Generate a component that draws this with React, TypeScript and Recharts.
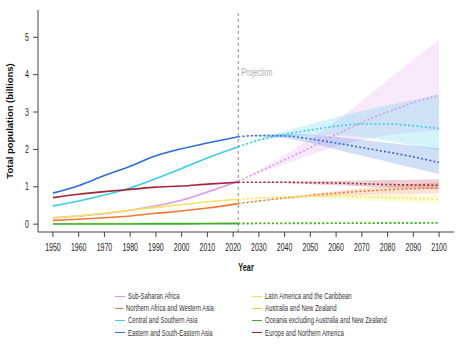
import React from "react";
import {
  ComposedChart,
  Line,
  Area,
  XAxis,
  YAxis,
  ReferenceLine,
} from "recharts";

const histYears = [1950, 1960, 1970, 1980, 1990, 2000, 2010, 2022];
const projYears = [2022, 2030, 2040, 2050, 2060, 2070, 2080, 2090, 2100];
const xTicks = [1950, 1960, 1970, 1980, 1990, 2000, 2010, 2020, 2030, 2040, 2050, 2060, 2070, 2080, 2090, 2100];
const yTicks = [0, 1, 2, 3, 4, 5];

const regions = [
  "Sub-Saharan Africa",
  "Northern Africa and Western Asia",
  "Central and Southern Asia",
  "Eastern and South-Eastern Asia",
  "Latin America and the Caribbean",
  "Australia and New Zealand",
  "Oceania excluding Australia and New Zealand",
  "Europe and Northern America",
];
const colors = ["#dc98ea", "#f07a32", "#3ccde8", "#2f6ed6", "#f5e35a", "#c9d84a", "#35b040", "#a22638"];

// historical, 1950..2022
const ssaHist = [0.17, 0.22, 0.28, 0.37, 0.49, 0.64, 0.86, 1.15];
const nawaHist = [0.1, 0.13, 0.17, 0.22, 0.29, 0.35, 0.43, 0.55];
const csaHist = [0.49, 0.62, 0.78, 0.97, 1.22, 1.49, 1.77, 2.07];
const eseaHist = [0.83, 1.03, 1.3, 1.55, 1.83, 2.02, 2.17, 2.34];
const lacHist = [0.17, 0.22, 0.29, 0.37, 0.45, 0.52, 0.6, 0.66];
const anzHist = [0.01, 0.013, 0.015, 0.017, 0.02, 0.022, 0.026, 0.031];
const oceHist = [0.003, 0.004, 0.005, 0.006, 0.007, 0.008, 0.01, 0.014];
const enaHist = [0.71, 0.8, 0.87, 0.93, 0.99, 1.02, 1.07, 1.12];

// projections, 2022..2100: median, low, high
const ssaProj = [1.15, 1.4, 1.72, 2.05, 2.4, 2.72, 3.0, 3.25, 3.45];
const ssaLow = [1.15, 1.36, 1.6, 1.85, 2.08, 2.25, 2.38, 2.45, 2.5];
const ssaHigh = [1.15, 1.44, 1.85, 2.28, 2.75, 3.3, 3.85, 4.4, 4.92];
const nawaProj = [0.55, 0.62, 0.7, 0.77, 0.83, 0.88, 0.92, 0.95, 0.97];
const nawaLow = [0.55, 0.61, 0.67, 0.72, 0.76, 0.78, 0.8, 0.81, 0.82];
const nawaHigh = [0.55, 0.63, 0.72, 0.81, 0.89, 0.96, 1.02, 1.07, 1.12];
const csaProj = [2.07, 2.25, 2.4, 2.52, 2.62, 2.68, 2.68, 2.63, 2.56];
const csaLow = [2.07, 2.22, 2.33, 2.38, 2.38, 2.33, 2.23, 2.1, 1.97];
const csaHigh = [2.07, 2.28, 2.48, 2.68, 2.86, 3.03, 3.18, 3.33, 3.45];
const eseaProj = [2.34, 2.37, 2.36, 2.28, 2.17, 2.05, 1.93, 1.8, 1.65];
const eseaLow = [2.34, 2.35, 2.3, 2.17, 2.0, 1.83, 1.67, 1.5, 1.34];
const eseaHigh = [2.34, 2.39, 2.42, 2.4, 2.34, 2.26, 2.18, 2.1, 2.03];
const lacProj = [0.66, 0.7, 0.73, 0.75, 0.75, 0.73, 0.71, 0.69, 0.67];
const lacLow = [0.66, 0.69, 0.7, 0.69, 0.67, 0.63, 0.6, 0.57, 0.55];
const lacHigh = [0.66, 0.71, 0.75, 0.78, 0.8, 0.8, 0.8, 0.79, 0.78];
const anzProj = [0.031, 0.034, 0.036, 0.038, 0.04, 0.041, 0.042, 0.043, 0.043];
const oceProj = [0.014, 0.016, 0.019, 0.021, 0.023, 0.025, 0.027, 0.028, 0.03];
const enaProj = [1.12, 1.12, 1.12, 1.11, 1.1, 1.08, 1.06, 1.05, 1.04];
const enaLow = [1.12, 1.11, 1.1, 1.07, 1.04, 1.01, 0.98, 0.96, 0.94];
const enaHigh = [1.12, 1.13, 1.14, 1.15, 1.16, 1.17, 1.18, 1.19, 1.2];

const keys = ["ssa", "nawa", "csa", "esea", "lac", "anz", "oce", "ena"];
const hist = [ssaHist, nawaHist, csaHist, eseaHist, lacHist, anzHist, oceHist, enaHist];
const proj = [ssaProj, nawaProj, csaProj, eseaProj, lacProj, anzProj, oceProj, enaProj];
const lows = [ssaLow, nawaLow, csaLow, eseaLow, lacLow, null, null, enaLow];
const highs = [ssaHigh, nawaHigh, csaHigh, eseaHigh, lacHigh, null, null, enaHigh];

const allYears = Array.from(new Set([...histYears, ...projYears]));
const data = allYears.map((year) => {
  const row: Record<string, any> = { year };
  const hi = histYears.indexOf(year);
  const pj = projYears.indexOf(year);
  keys.forEach((k, i) => {
    if (hi >= 0) row[k + "_h"] = hist[i][hi];
    if (pj >= 0) {
      row[k + "_p"] = proj[i][pj];
      const lo = lows[i];
      const up = highs[i];
      if (lo && up) row[k + "_b"] = [lo[pj], up[pj]];
    }
  });
  return row;
});

const font = "'Liberation Sans', Arial, sans-serif";
const SQ = 0.7; // the original's text is horizontally squeezed

// draw order: bands first, then lines
const bandOrder = ["ssa", "csa", "esea", "lac", "nawa", "ena"];

function Narrow({ x, y, text, anchor = "middle", size = 10, fill = "#222", bold = false }: any) {
  return (
    <text
      transform={`translate(${x},${y}) scale(${SQ},1)`}
      textAnchor={anchor}
      fontSize={size}
      fontFamily={font}
      fontWeight={bold ? "bold" : "normal"}
      fill={fill}
    >
      {text}
    </text>
  );
}

const XTick = (p: any) => <Narrow x={p.x} y={p.y + 9} text={p.payload.value} />;
const YTick = (p: any) => <Narrow x={p.x} y={p.y + 3.5} text={p.payload.value} anchor="end" />;

export default function App() {
  return (
    <div style={{ position: "absolute", left: 0, top: 0, width: 474, height: 346, background: "#fff", fontFamily: font }}>
      <ComposedChart
        width={474}
        height={346}
        data={data}
        margin={{ top: 10, right: 20, left: 0, bottom: 74 }}
      >
        <XAxis
          dataKey="year"
          type="number"
          domain={[1944.2, 2105.8]}
          ticks={xTicks}
          interval={0}
          allowDataOverflow
          tickSize={5}
          height={40}
          stroke="#444"
          tick={<XTick />}
          tickMargin={5}
          label={{
            position: "insideBottom",
            content: (p: any) => (
              <Narrow x={p.viewBox.x + p.viewBox.width / 2} y={p.viewBox.y + 39} text="Year" bold size={10.5} fill="#111" />
            ),
          }}
        />
        <YAxis
          type="number"
          domain={[-0.21, 5.73]}
          ticks={yTicks}
          interval={0}
          allowDataOverflow
          width={38}
          tickSize={5}
          stroke="#444"
          tick={<YTick />}
          tickMargin={4}
          label={{
            position: "insideLeft",
            content: (p: any) => (
              <text
                transform={`translate(13,${p.viewBox.y + p.viewBox.height / 2}) rotate(-90)`}
                textAnchor="middle"
                fontSize={9.5}
                fontWeight="bold"
                fontFamily={font}
                fill="#111"
              >
                Total population (billions)
              </text>
            ),
          }}
        />
        {bandOrder.map((k) => {
          const i = keys.indexOf(k);
          return (
            <Area
              key={k + "_b"}
              dataKey={k + "_b"}
              type="monotone"
              stroke="none"
              fill={colors[i]}
              fillOpacity={0.22}
              connectNulls={false}
              isAnimationActive={false}
              activeDot={false}
            />
          );
        })}
        <ReferenceLine
          x={2022}
          stroke="#888"
          strokeDasharray="3 3"
          label={{
            position: "insideTopLeft",
            content: (p: any) => (
              <Narrow x={p.viewBox.x + 3} y={p.viewBox.y + 66} text="Projection" anchor="start" size={10} fill="#aaa" />
            ),
          }}
        />
        {keys.map((k, i) => (
          <Line
            key={k + "_h"}
            dataKey={k + "_h"}
            type="monotone"
            stroke={colors[i]}
            strokeWidth={1.6}
            dot={false}
            connectNulls={false}
            isAnimationActive={false}
          />
        ))}
        {keys.map((k, i) => (
          <Line
            key={k + "_p"}
            dataKey={k + "_p"}
            type="monotone"
            stroke={colors[i]}
            strokeWidth={1.6}
            strokeDasharray="2 2.2"
            dot={false}
            connectNulls={false}
            isAnimationActive={false}
          />
        ))}
      </ComposedChart>
      <div style={{ position: "absolute", left: 115, top: 290, display: "grid", gridTemplateColumns: "137px 200px" }}>
        {[0, 4, 1, 5, 2, 6, 3, 7].map((i) => (
          <div key={i} style={{ display: "flex", alignItems: "center", height: 12.2, fontSize: 8.5, color: "#333", whiteSpace: "nowrap" }}>
            <span style={{ display: "inline-block", width: 10, height: 0, borderTop: `1px solid ${colors[i]}`, marginRight: 3 }} />
            <span style={{ display: "inline-block", transform: `scaleX(${SQ})`, transformOrigin: "left center" }}>{regions[i]}</span>
          </div>
        ))}
      </div>
    </div>
  );
}
